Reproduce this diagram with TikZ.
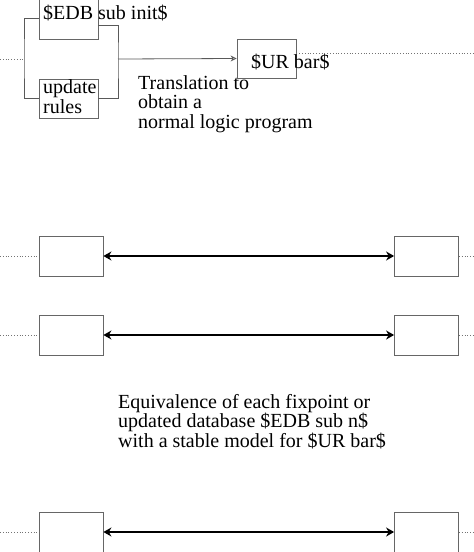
\documentclass[tikz,border=0pt]{standalone}
\usepackage{fontspec}
\setmainfont{Liberation Serif}
\usetikzlibrary{arrows.meta,positioning}

\tikzset{
	box/.style={draw=black!60, line width=0.8pt, inner sep=0pt,
		minimum width=59pt, minimum height=39pt},
	wbox/.style={box, minimum width=64pt, minimum height=40pt},
	txt/.style={anchor=base west, inner sep=0pt, align=left,
		font=\fontsize{20}{19.5}\selectfont},
	wire/.style={draw=black!65, line width=0.8pt},
	dots/.style={draw=black!55, dotted, line width=0.8pt},
	equiv/.style={line width=2pt, {Stealth[length=8pt,width=9pt]}-{Stealth[length=8pt,width=9pt]}},
}

\begin{document}
\begin{tikzpicture}[x=1pt,y=-1pt]
		\useasboundingbox (0,0) rectangle (474,552);
		% translation part
		\node[box, minimum height=41pt] (EDB) at (68.5,18.5) {};
		\node[box] (UPD) at (68.5,98.5) {};
		\node[box] (UR) at (266.5,58.5) {};
		% base of a multi-line text is its last line
		\node[txt] (EDBt) at (43,19) {\$EDB sub init\$};
		\node[txt] (UPDt) at (43,113) {update\\rules};
		\node[txt] (URt) at (251,68) {\$UR bar\$};
		\node[txt] (TR) at (138,128) {Translation to\\obtain a\\normal logic program};
		\coordinate (JL) at (24,59);
		\coordinate (JR) at (118,59);
		\draw[wire] (EDB.west) -| (JL) |- (UPD.west);
		\draw[wire] ([yshift=-6.5pt]EDB.east) -| (JR) |- (UPD.east);
		\draw[wire, -{Stealth[open,length=6pt,width=6pt]}] (JR) -- (UR.west);
		\draw[dots] (0,59) -- (JL);
		\draw[dots] ([yshift=5.5pt]UR.east) -- (474,53);
		% equivalence part
		\foreach \R/\Y in {a/256, b/335, c/532}{
			\node[wbox] (L\R) at (71,\Y) {};
			\node[wbox] (R\R) at (426.5,\Y) {};
			\draw[equiv] (L\R.east) -- (R\R.west);
			\draw[dots] (0,\Y) -- (L\R.west);
			\draw[dots] (R\R.east) -- (474,\Y);
		}
		\node[txt] (EQ) at (118,447) {Equivalence of each fixpoint or\\updated database \$EDB sub n\$\\with a stable model for \$UR bar\$};
	\end{tikzpicture}
\end{document}
